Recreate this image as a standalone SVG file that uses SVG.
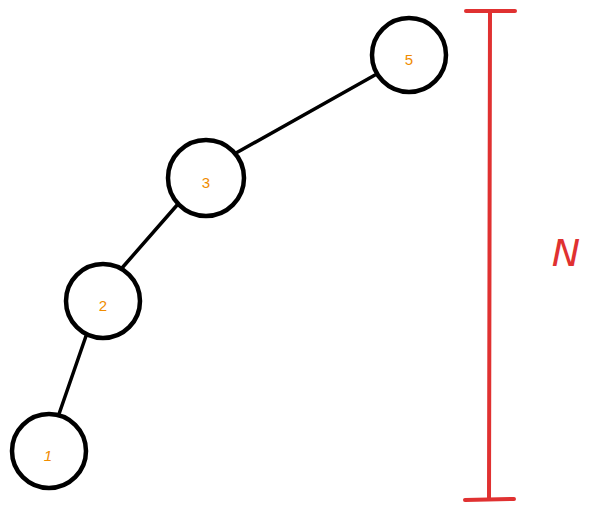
<svg xmlns="http://www.w3.org/2000/svg" width="592" height="512" viewBox="0 0 592 512">
<style>
.node circle{fill:#fff;stroke:#000;stroke-width:4.5}
.node text{fill:#f08c00;font-family:"Liberation Sans",Arial,sans-serif;font-size:15px;text-anchor:middle;dominant-baseline:central}
.edge{stroke:#000;stroke-width:3.5;fill:none;stroke-linecap:round}
.red{stroke:#e03131;stroke-width:4;stroke-linecap:round;fill:none}
</style>
<rect width="592" height="512" fill="#fff"/>
<g id="connectors">
<line class="edge" x1="375" y1="75" x2="236" y2="153"/>
<line class="edge" x1="178" y1="204" x2="122" y2="268"/>
<line class="edge" x1="86" y1="336" x2="59" y2="414"/>
</g>
<g id="node5" class="node"><circle cx="409" cy="55" r="37"/><text x="409" y="59">5</text></g>
<g id="node3" class="node"><circle cx="206" cy="178" r="38"/><text x="206" y="182">3</text></g>
<g id="node2" class="node"><circle cx="103" cy="301" r="37"/><text x="103" y="305">2</text></g>
<g id="node1" class="node"><circle cx="49" cy="451" r="37"/><text x="48" y="455" font-style="italic">1</text></g>
<g id="measure">
<line class="red" x1="466" y1="11" x2="515" y2="11"/>
<line class="red" x1="490" y1="11" x2="489" y2="499"/>
<line class="red" x1="465" y1="500" x2="514" y2="499"/>
<text x="566" y="253" fill="#e03131" font-family="DejaVu Sans,sans-serif" font-weight="200" font-size="38" font-style="italic" text-anchor="middle" dominant-baseline="central">N</text>
</g>
</svg>
